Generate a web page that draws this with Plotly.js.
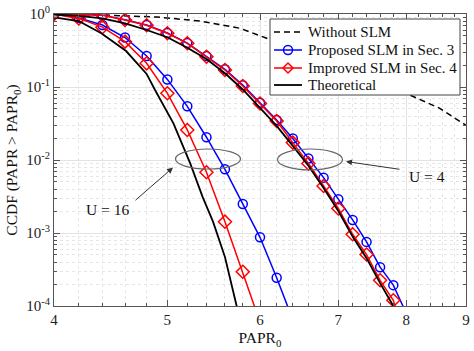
<!DOCTYPE html>
<html>
<head>
<meta charset="utf-8">
<script src="https://cdn.plot.ly/plotly-3.0.1.min.js"></script>
<style>html,body{margin:0;padding:0;background:#fff;overflow:hidden;}#chart{display:block;width:474px;height:351px;}</style>
</head>
<body>
<div id="chart"></div>
<script>
// ---- data ----
const xNoSLM = [4.0, 4.38, 4.9, 5.33, 5.77, 6.08, 8.12, 8.54, 9.0];
const yNoSLM = [0.99, 0.969, 0.91, 0.80, 0.637, 0.465, 0.0735, 0.0514, 0.0299];

const xU4 = [4.0,4.2,4.4,4.6,4.8,5.0,5.2,5.4,5.6,5.8,6.0,6.2,6.4,6.6,6.8,7.0,7.2,7.4,7.6,7.8,8.0];
const yU4Prop = [1.0,0.995,0.965,0.835,0.705,0.55,0.40,0.265,0.175,0.106,0.0608,0.0354,0.0197,0.0105,0.00573,0.00291,0.00151,0.000755,0.00034,0.000193,0.00008];
const yU4Imp  = [1.0,0.995,0.96,0.83,0.70,0.545,0.397,0.26,0.171,0.103,0.0594,0.0342,0.0173,0.00898,0.0044,0.00217,0.00096,0.000507,0.000225,0.00012,0.00003];
const yU4Theo = [0.985,0.94,0.873,0.745,0.604,0.48,0.345,0.242,0.154,0.0925,0.0516,0.0293,0.0156,0.00833,0.00412,0.0020,0.000893,0.000452,0.000206,0.0001,0.000045];

const xU16Prop = [4.0,4.2,4.4,4.6,4.8,5.0,5.2,5.4,5.6,5.8,6.0,6.2,6.4];
const yU16Prop = [1.0,0.88,0.707,0.476,0.266,0.127,0.0544,0.0205,0.00746,0.0025,0.000873,0.000244,0.000065];
const xU16Imp = [4.0,4.2,4.4,4.6,4.8,5.0,5.2,5.4,5.6,5.8,6.0];
const yU16Imp = [1.0,0.87,0.66,0.418,0.211,0.082,0.0258,0.00679,0.00143,0.000295,0.00006];
const xU16Theo = [4.0,4.2,4.39,4.61,4.8,4.88,5.06,5.23,5.36,5.47,5.60,5.73,5.79];
const yU16Theo = [0.90,0.80,0.544,0.311,0.151,0.091,0.0318,0.0090,0.0031,0.00143,0.00047,0.0001,0.00005];

const xTicks = [4,5,6,7,8,9];
const xTickText = ['4','5','6','7','8','9'];
const yTicks = [1e-4,1e-3,1e-2,1e-1,1];
const yTickText = ['10<sup>-4</sup>','10<sup>-3</sup>','10<sup>-2</sup>','10<sup>-1</sup>','10<sup>0</sup>'];

const names = ['Without SLM','Proposed SLM in Sec. 3','Improved SLM in Sec. 4','Theoretical'];
const annoText = ['U = 16', 'U = 4'];

// minor ticks
const xMinor = [];
for (let v = 4.2; v < 9; v += 0.2) { const r = Math.round(v*10)/10; if (Math.abs(r - Math.round(r)) > 1e-6) xMinor.push(r); }
const yMinor = [];
for (let e = -4; e < 0; e++) for (let m = 2; m <= 9; m++) yMinor.push(m * Math.pow(10, e));

const FONT = 'Liberation Serif, Times New Roman, serif';
const BLUE = '#0000ff', RED = '#ff0000', BLACK = '#000000';
const DASH = '6px,4px';

const propStyle = {mode:'lines+markers', line:{color:BLUE,width:1.5}, marker:{symbol:'circle-open',size:9,color:BLUE,line:{width:1.5,color:BLUE}}};
const impStyle = {mode:'lines+markers', line:{color:RED,width:1.5}, marker:{symbol:'diamond-open',size:10,color:RED,line:{width:1.5,color:RED}}};
const theoStyle = {mode:'lines', line:{color:BLACK,width:1.8}};

const traces = [
  {x:xNoSLM, y:yNoSLM, name:names[0], mode:'lines', line:{color:BLACK,width:1.5,dash:DASH}},
  Object.assign({x:xU4, y:yU4Prop, name:names[1]}, propStyle),
  Object.assign({x:xU16Prop, y:yU16Prop, name:names[1]}, propStyle),
  Object.assign({x:xU4, y:yU4Imp, name:names[2]}, impStyle),
  Object.assign({x:xU16Imp, y:yU16Imp, name:names[2]}, impStyle),
  Object.assign({x:xU4, y:yU4Theo, name:names[3]}, theoStyle),
  Object.assign({x:xU16Theo, y:yU16Theo, name:names[3]}, theoStyle)
];

const W = 474, H = 351, L = 54, R = 8, T = 14, B = 45;
const pw = W - L - R, ph = H - T - B;
const px = v => (v - L) / pw;
const py = v => (H - B - v) / ph;

const axisCommon = {
  showline:true, linecolor:'#555', linewidth:1, mirror:'allticks',
  ticks:'inside', ticklen:6, tickcolor:'#555', tickwidth:1,
  showgrid:true, gridcolor:'#e3e3e3', gridwidth:1, zeroline:false,
  tickfont:{family:FONT, size:15, color:'#222'},
  automargin:false
};

// ---- legend box (drawn by hand so its rows match the reference spacing) ----
const legBox = {x0:270, x1:460, y0:19, y1:95};
const legRows = [32, 50, 68, 85];
const legLineX = [274, 302];
const legMarkX = 288;
const legTextX = 306;
const legendShapes = [
  {type:'rect', xref:'paper', yref:'paper', layer:'above', x0:px(legBox.x0), x1:px(legBox.x1), y0:py(legBox.y1), y1:py(legBox.y0), fillcolor:'#ffffff', line:{color:'#444', width:1}},
  {type:'line', xref:'paper', yref:'paper', layer:'above', x0:px(legLineX[0]), x1:px(legLineX[1]), y0:py(legRows[0]), y1:py(legRows[0]), line:{color:BLACK, width:1.5, dash:DASH}},
  {type:'line', xref:'paper', yref:'paper', layer:'above', x0:px(legLineX[0]), x1:px(legLineX[1]), y0:py(legRows[1]), y1:py(legRows[1]), line:{color:BLUE, width:1.5}},
  {type:'circle', xref:'paper', yref:'paper', layer:'above', x0:px(legMarkX-4.5), x1:px(legMarkX+4.5), y0:py(legRows[1]+4.5), y1:py(legRows[1]-4.5), fillcolor:'rgba(0,0,0,0)', line:{color:BLUE, width:1.5}},
  {type:'line', xref:'paper', yref:'paper', layer:'above', x0:px(legLineX[0]), x1:px(legLineX[1]), y0:py(legRows[2]), y1:py(legRows[2]), line:{color:RED, width:1.5}},
  {type:'path', xref:'paper', yref:'paper', layer:'above',
    path:'M'+px(legMarkX-5)+','+py(legRows[2])+' L'+px(legMarkX)+','+py(legRows[2]-5)+' L'+px(legMarkX+5)+','+py(legRows[2])+' L'+px(legMarkX)+','+py(legRows[2]+5)+' Z',
    fillcolor:'rgba(0,0,0,0)', line:{color:RED, width:1.5}},
  {type:'line', xref:'paper', yref:'paper', layer:'above', x0:px(legLineX[0]), x1:px(legLineX[1]), y0:py(legRows[3]), y1:py(legRows[3]), line:{color:BLACK, width:1.8}}
];
const legendTexts = names.map((n, i) => ({xref:'paper', yref:'paper', x:px(legTextX), y:py(legRows[i]), text:n, showarrow:false,
  xanchor:'left', yanchor:'middle', font:{family:FONT, size:15, color:'#111'}}));

const layout = {
  width:W, height:H,
  margin:{l:L, r:R, t:T, b:B, pad:0},
  paper_bgcolor:'#fff', plot_bgcolor:'#fff',
  font:{family:FONT, size:15, color:'#111'},
  showlegend:false,
  xaxis:Object.assign({}, axisCommon, {
    type:'log', range:[Math.log10(4), Math.log10(9)],
    tickmode:'array', tickvals:xTicks, ticktext:xTickText,
    minor:{tickmode:'array', tickvals:xMinor, ticks:'inside', ticklen:3, tickcolor:'#555', showgrid:true, gridcolor:'#e6e6e6', griddash:'dot'},
    title:{text:'PAPR<sub>0</sub>', font:{family:FONT, size:15.5, color:'#111'}, standoff:5}
  }),
  yaxis:Object.assign({}, axisCommon, {
    type:'log', range:[-4, 0],
    tickmode:'array', tickvals:yTicks, ticktext:yTickText,
    minor:{tickmode:'array', tickvals:yMinor, ticks:'inside', ticklen:3, tickcolor:'#555', showgrid:true, gridcolor:'#e6e6e6', griddash:'dot'},
    title:{text:'CCDF (PAPR &gt; PAPR<sub>0</sub>)', font:{family:FONT, size:15.5, color:'#111'}, standoff:4}
  }),
  shapes:[
    {type:'circle', xref:'paper', yref:'paper', x0:px(175.5), x1:px(240.5), y0:py(169), y1:py(149), line:{color:'#666', width:1.2}},
    {type:'circle', xref:'paper', yref:'paper', x0:px(277.5), x1:px(342.5), y0:py(170), y1:py(149), line:{color:'#666', width:1.2}}
  ].concat(legendShapes),
  annotations:[
    {xref:'paper', yref:'paper', x:px(173), y:py(167.5), text:'', showarrow:true, arrowhead:2, arrowsize:1.2, arrowwidth:1, arrowcolor:'#333', ax:-39, ay:34},
    {xref:'paper', yref:'paper', x:px(346), y:py(161.5), text:'', showarrow:true, arrowhead:2, arrowsize:1.2, arrowwidth:1, arrowcolor:'#333', ax:55, ay:8},
    {xref:'paper', yref:'paper', x:px(107), y:py(209), text:annoText[0], showarrow:false, font:{family:FONT, size:15.5, color:'#111'}, xanchor:'center', yanchor:'middle'},
    {xref:'paper', yref:'paper', x:px(427), y:py(176), text:annoText[1], showarrow:false, font:{family:FONT, size:15.5, color:'#111'}, xanchor:'center', yanchor:'middle'}
  ].concat(legendTexts)
};

Plotly.newPlot('chart', traces, layout, {displayModeBar:false});
</script>
</body>
</html>
